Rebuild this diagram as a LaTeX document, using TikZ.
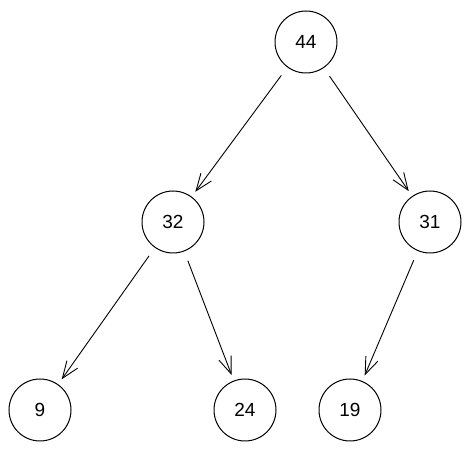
\documentclass[tikz,border=0pt]{standalone}
\usepackage{fontspec}
\setmainfont{Liberation Sans}
\usetikzlibrary{arrows.meta}

\tikzset{
  heapnode/.style={draw, circle, line width=1pt, minimum size=62pt, inner sep=0pt,
    font=\fontsize{19}{22}\selectfont},
  edge/.style={line width=0.9pt, -{Straight Barb[length=17pt, width=13pt, line width=0.9pt]},
    shorten <=10pt, shorten >=6pt}
}

\begin{document}
\begin{tikzpicture}[x=1pt, y=-1pt]
        \useasboundingbox (0,0) rectangle (472,454);

        % Nodes
        \node[heapnode] (n44) at (306,42) {44};
        \node[heapnode] (n32) at (173,222) {32};
        \node[heapnode] (n31) at (430,222) {31};
        \node[heapnode] (n9) at (40,410) {9};
        \node[heapnode] (n24) at (245,410) {24};
        \node[heapnode] (n19) at (350,410) {19};

        % Edges
        \draw[edge] (n44) -- (n32);
        \draw[edge] (n44) -- (n31);
        \draw[edge] (n32) -- (n9);
        \draw[edge] (n32) -- (n24);
        \draw[edge] (n31) -- (n19);
    \end{tikzpicture}
\end{document}
